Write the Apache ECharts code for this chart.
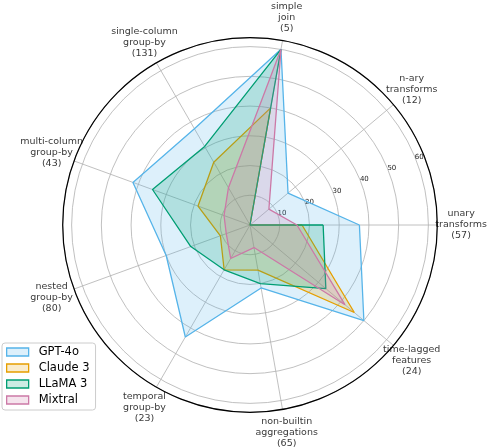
<!DOCTYPE html>
<html>
<head>
<meta charset="utf-8">
<script src="https://cdn.jsdelivr.net/npm/echarts@6/dist/echarts.min.js"></script>
<style>
    html, body { margin: 0; padding: 0; background: #fff; }
    .chart { width: 494px; height: 448px; }
</style>
</head>
<body>
<div class="chart"></div>
<script>
// 类别（逆时针，从0度开始，每个间隔 360/9 度）
var categories = [
    "unary\ntransforms\n(57)",
    "n-ary\ntransforms\n(12)",
    "simple\njoin\n(5)",
    "single-column\ngroup-by\n(131)",
    "multi-column\ngroup-by\n(43)",
    "nested\ngroup-by\n(80)",
    "temporal\ngroup-by\n(23)",
    "non-builtin\naggregations\n(65)",
    "time-lagged\nfeatures\n(24)"
];
var modelNames = ["GPT-4o", "Claude 3", "LLaMA 3", "Mixtral"];
var gpt4o   = [36.8, 16.7, 60, 37.4, 41.9, 30.0, 43.5, 21.5, 50.0];
var claude3 = [17.5, 0, 40, 24.4, 18.6, 10.6, 17.4, 15.4, 45.8];
var llama3  = [24.6, 0, 60, 30.5, 34.9, 21.2, 17.4, 20.0, 33.3];
var mixtral = [15.8, 8.3, 60, 14.5, 9.3, 8.5, 13.0, 7.7, 41.7];
var radiusTicks = [10, 20, 30, 40, 50, 60];

(function () {
    var myChart = echarts.init(document.querySelector(".chart"));
    var colors = ["#56B4E9", "#E69F00", "#009E73", "#CC79A7"];
    var fills = ["rgba(86,180,233,0.2)", "rgba(230,159,0,0.2)", "rgba(0,158,115,0.2)", "rgba(204,121,167,0.2)"];
    var allData = [gpt4o, claude3, llama3, mixtral];
    var step = 360 / categories.length;
    var rMax = 63;
    var labelR = 71; // 类别文字所在半径
    var font = "DejaVu Sans";

    // 闭合多边形：最后再接回第一个点
    function closed(values) {
        var pts = values.map(function (v, i) { return [v, i * step]; });
        pts.push([values[0], 360]);
        return pts;
    }

    var series = modelNames.map(function (name, k) {
        return {
            name: name,
            type: "line",
            coordinateSystem: "polar",
            polarIndex: 0,
            clip: false,
            data: closed(allData[k]),
            symbol: "none",
            color: colors[k],
            lineStyle: { color: colors[k], width: 1.3 },
            areaStyle: { color: fills[k], opacity: 1 },
            z: 2 + k
        };
    });

    // 类别文字
    series.push({
        type: "scatter",
        coordinateSystem: "polar",
        polarIndex: 0,
        clip: false,
        silent: true,
        symbolSize: 0,
        itemStyle: { color: "transparent" },
        data: categories.map(function (c, i) { return [labelR, i * step]; }),
        label: {
            show: true,
            position: "inside",
            align: "center",
            verticalAlign: "middle",
            color: "#000",
            fontFamily: font,
            fontSize: 9.5,
            lineHeight: 11,
            formatter: function (p) { return categories[p.dataIndex]; }
        }
    });

    var option = {
        animation: false,
        textStyle: { fontFamily: font },
        legend: {
            orient: "vertical",
            left: 2,
            top: 343,
            padding: [3, 6, 4, 4],
            itemGap: 4,
            itemWidth: 22,
            itemHeight: 8,
            icon: "rect",
            borderColor: "#cccccc",
            borderWidth: 1,
            borderRadius: 3,
            backgroundColor: "rgba(255,255,255,0.8)",
            textStyle: { fontFamily: font, fontSize: 11.5, color: "#000", padding: [0, 0, 0, 5] },
            data: modelNames.map(function (name, k) {
                return {
                    name: name,
                    itemStyle: { color: fills[k], borderColor: colors[k], borderWidth: 1.3 }
                };
            })
        },
        polar: [
            { center: [250, 225], radius: 187.3 },
            { center: [250, 225], radius: 187.3 }
        ],
        angleAxis: [
            {
                polarIndex: 0,
                type: "value",
                min: 0,
                max: 360,
                interval: step,
                startAngle: 0,
                clockwise: false,
                axisLine: { lineStyle: { color: "#000", width: 1.2 } },
                axisTick: { show: false },
                axisLabel: { show: false },
                splitLine: { show: true, lineStyle: { color: "#b0b0b0", width: 0.8 } }
            },
            {
                // 只用来放刻度文字
                polarIndex: 1,
                type: "value",
                min: 0,
                max: 360,
                startAngle: 22.5,
                clockwise: false,
                axisLine: { show: false },
                axisTick: { show: false },
                axisLabel: { show: false },
                splitLine: { show: false }
            }
        ],
        radiusAxis: [
            {
                polarIndex: 0,
                min: 0,
                max: rMax,
                interval: 10,
                axisLine: { show: false },
                axisTick: { show: false },
                axisLabel: { show: false },
                splitLine: { show: true, lineStyle: { color: "#b0b0b0", width: 0.8 } }
            },
            {
                polarIndex: 1,
                min: 0,
                max: rMax,
                interval: 10,
                axisLine: { show: false },
                axisTick: { show: false },
                splitLine: { show: false },
                axisLabel: {
                    show: true,
                    margin: 0,
                    align: "center",
                    verticalAlign: "middle",
                    padding: [0, 0, 4, 9],
                    fontFamily: font,
                    fontSize: 7,
                    color: "#222",
                    formatter: function (v) {
                        return radiusTicks.indexOf(v) >= 0 ? String(v) : "";
                    }
                }
            }
        ],
        series: series
    };
    myChart.setOption(option);
    window.addEventListener("resize", function () {
        myChart.resize();
    });
})();
</script>
</body>
</html>
